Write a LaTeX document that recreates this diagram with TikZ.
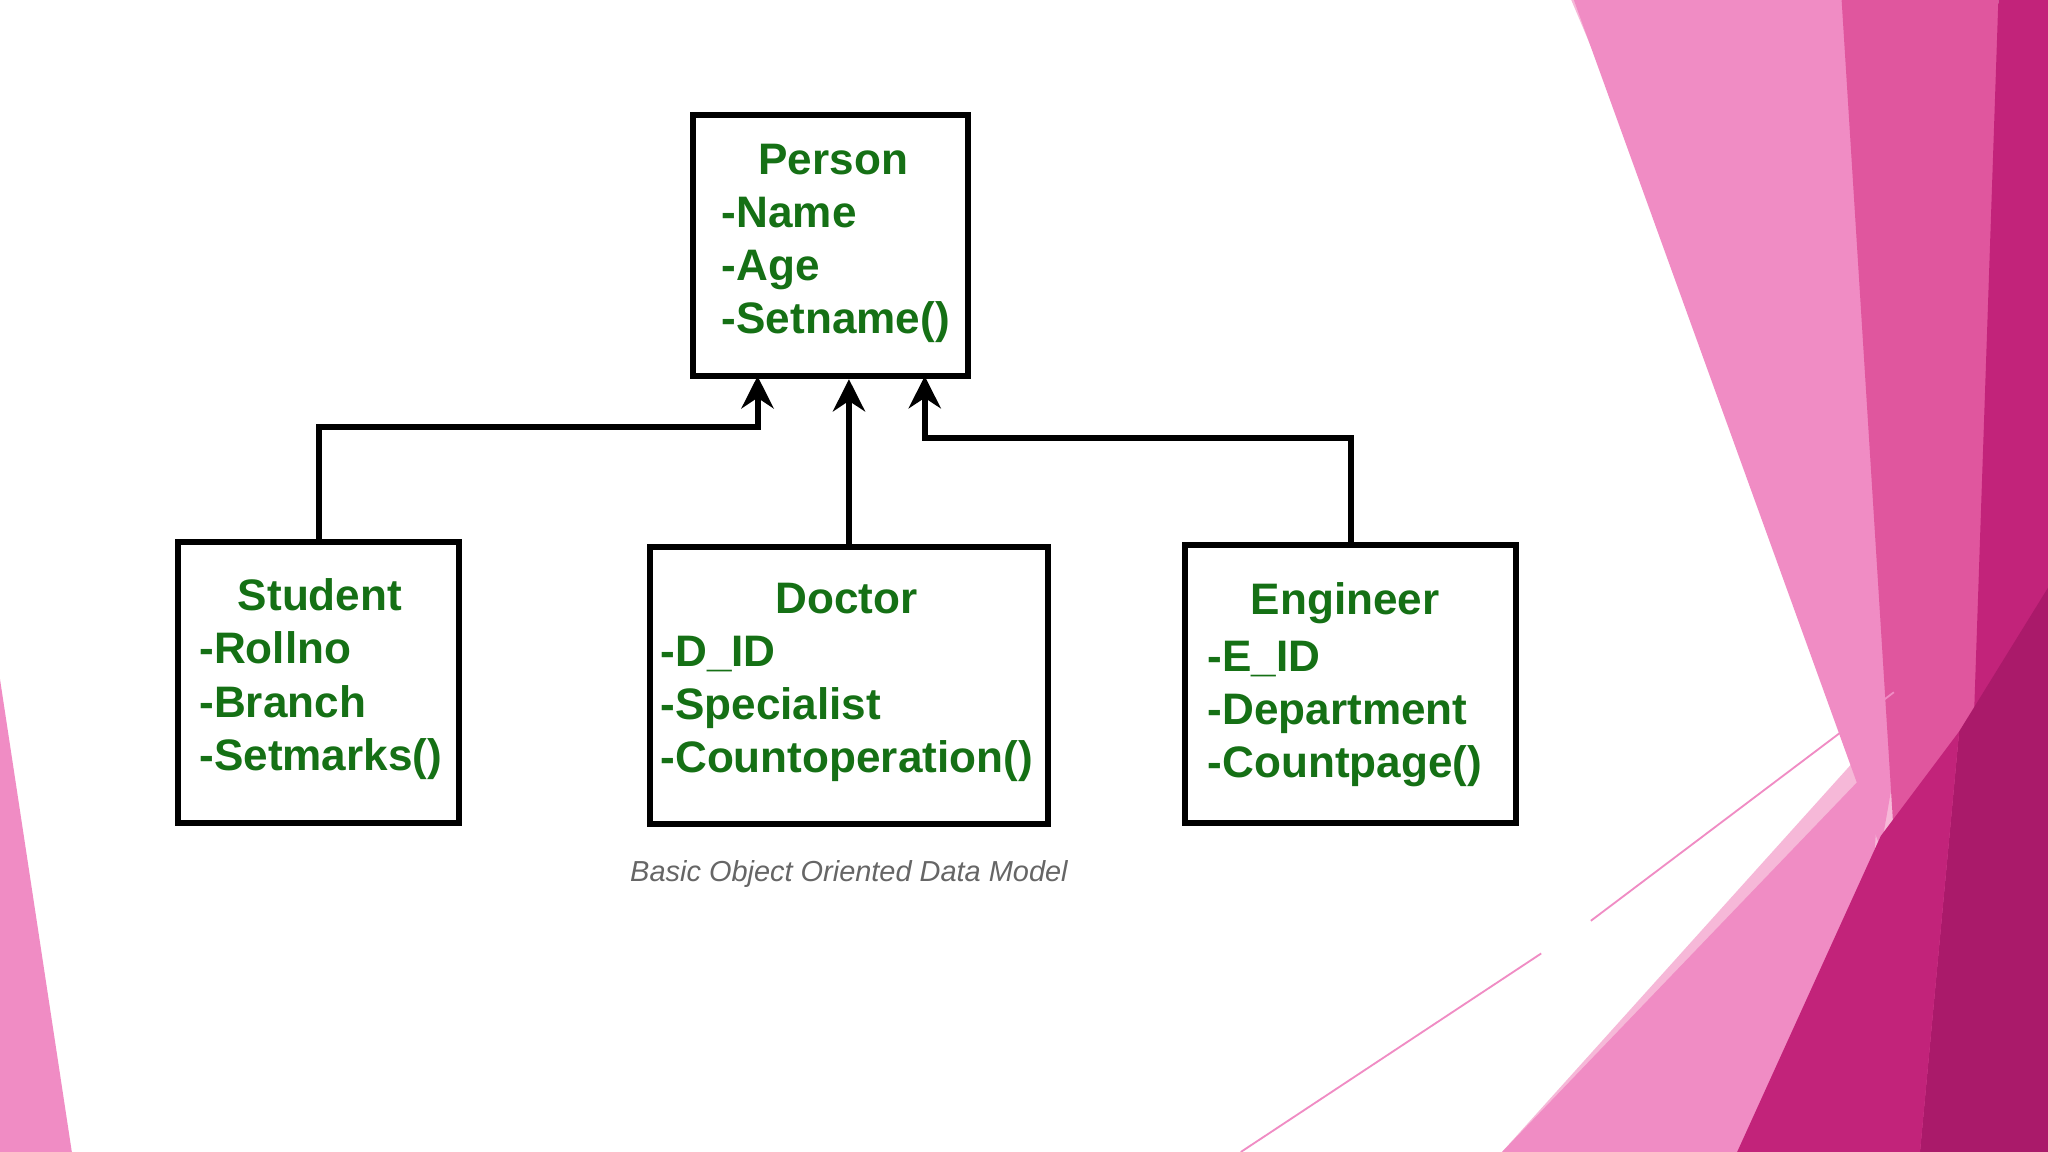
\documentclass[tikz,border=0pt]{standalone}
\usepackage{fontspec}
\setmainfont{Liberation Sans}
\usetikzlibrary{arrows.meta}
\definecolor{tgreen}{HTML}{157015}
\definecolor{pk1}{HTML}{F6B8D8}
\definecolor{pk2}{HTML}{F08CC4}
\definecolor{pk3}{HTML}{E0569E}
\definecolor{pk4}{HTML}{C2237A}
\definecolor{pk5}{HTML}{AA1A6A}
\tikzset{
 umlbox/.style={draw=black,line width=1.3pt,fill=white,inner sep=0pt},
 ttl/.style={font=\fontsize{9.6}{11.6}\selectfont\bfseries,text=tgreen,inner sep=0pt},
 attrs/.style={font=\fontsize{9.6}{11.6}\selectfont\bfseries,text=tgreen,align=left,anchor=north west,inner sep=0pt},
 conn/.style={line width=1.3pt,-{Stealth[length=7pt,width=7pt]}}
}
\begin{document}
\begin{tikzpicture}[x=0.01cm,y=-0.01cm]
\useasboundingbox (0,0) rectangle (1568,882);
\fill[white] (0,0) rectangle (1568,882);
% background shapes
\fill[pk1] (1203,0) -- (1420,0) -- (1450,640) -- (1330,882) -- (1150,882) -- (1440,560) -- cycle;
\fill[pk2] (1205,0) -- (1410,0) -- (1475,450) -- (1440,650) -- cycle;
\fill[pk2] (1150,882) -- (1440,580) -- (1420,882) -- cycle;
\fill[pk3] (1410,0) -- (1530,0) -- (1520,882) -- (1400,882) -- (1450,640) -- cycle;
\fill[pk4] (1530,0) -- (1568,0) -- (1568,882) -- (1500,882) -- cycle;
\fill[pk5] (1500,560) -- (1568,450) -- (1568,882) -- (1470,882) -- cycle;
\fill[pk4] (1330,882) -- (1440,640) -- (1500,560) -- (1470,882) -- cycle;
\fill[pk2] (0,520) -- (55,882) -- (0,882) -- cycle;
\draw[pk2,line width=0.4pt] (950,882) -- (1180,730);
\draw[pk2,line width=0.4pt] (1218,705) -- (1450,530);
% boxes
\node[umlbox,minimum width=2.10cm,minimum height=2.00cm] (person) at (636,188) {};
\node[umlbox,minimum width=2.15cm,minimum height=2.15cm] (student) at (244,522.5) {};
\node[umlbox,minimum width=3.05cm,minimum height=2.12cm] (doctor) at (650,525) {};
\node[umlbox,minimum width=2.53cm,minimum height=2.13cm] (engineer) at (1034,523.5) {};
% texts
\node[ttl] (pt) at (638,122) {Person};
\node[attrs] (pa) at (552,150) {-Name\\-Age\\-Setname()};
\node[ttl] (st) at (245,455) {Student};
\node[attrs] (sa) at (152,483) {-Rollno\\-Branch\\-Setmarks()};
\node[ttl] (dt) at (648,458) {Doctor};
\node[attrs] (da) at (505,486) {-D\_ID\\-Specialist\\-Countoperation()};
\node[ttl] (et) at (1030,462) {Engineer};
\node[attrs] (ea) at (924,490) {-E\_ID\\-Department\\-Countpage()};
% connectors
\coordinate (p1) at (580,288);
\coordinate (p3) at (708,288);
\draw[conn] (student.north) -- (244,327) -- (580,327) -- (p1);
\draw[conn] (doctor.north) -- (person.south -| doctor.north);
\draw[conn] (engineer.north) -- (1034,335) -- (708,335) -- (p3);
\node[font=\fontsize{6.3}{7}\selectfont\itshape,text=black!60] (cap) at (650,669) {Basic Object Oriented Data Model};
\end{tikzpicture}
\end{document}
